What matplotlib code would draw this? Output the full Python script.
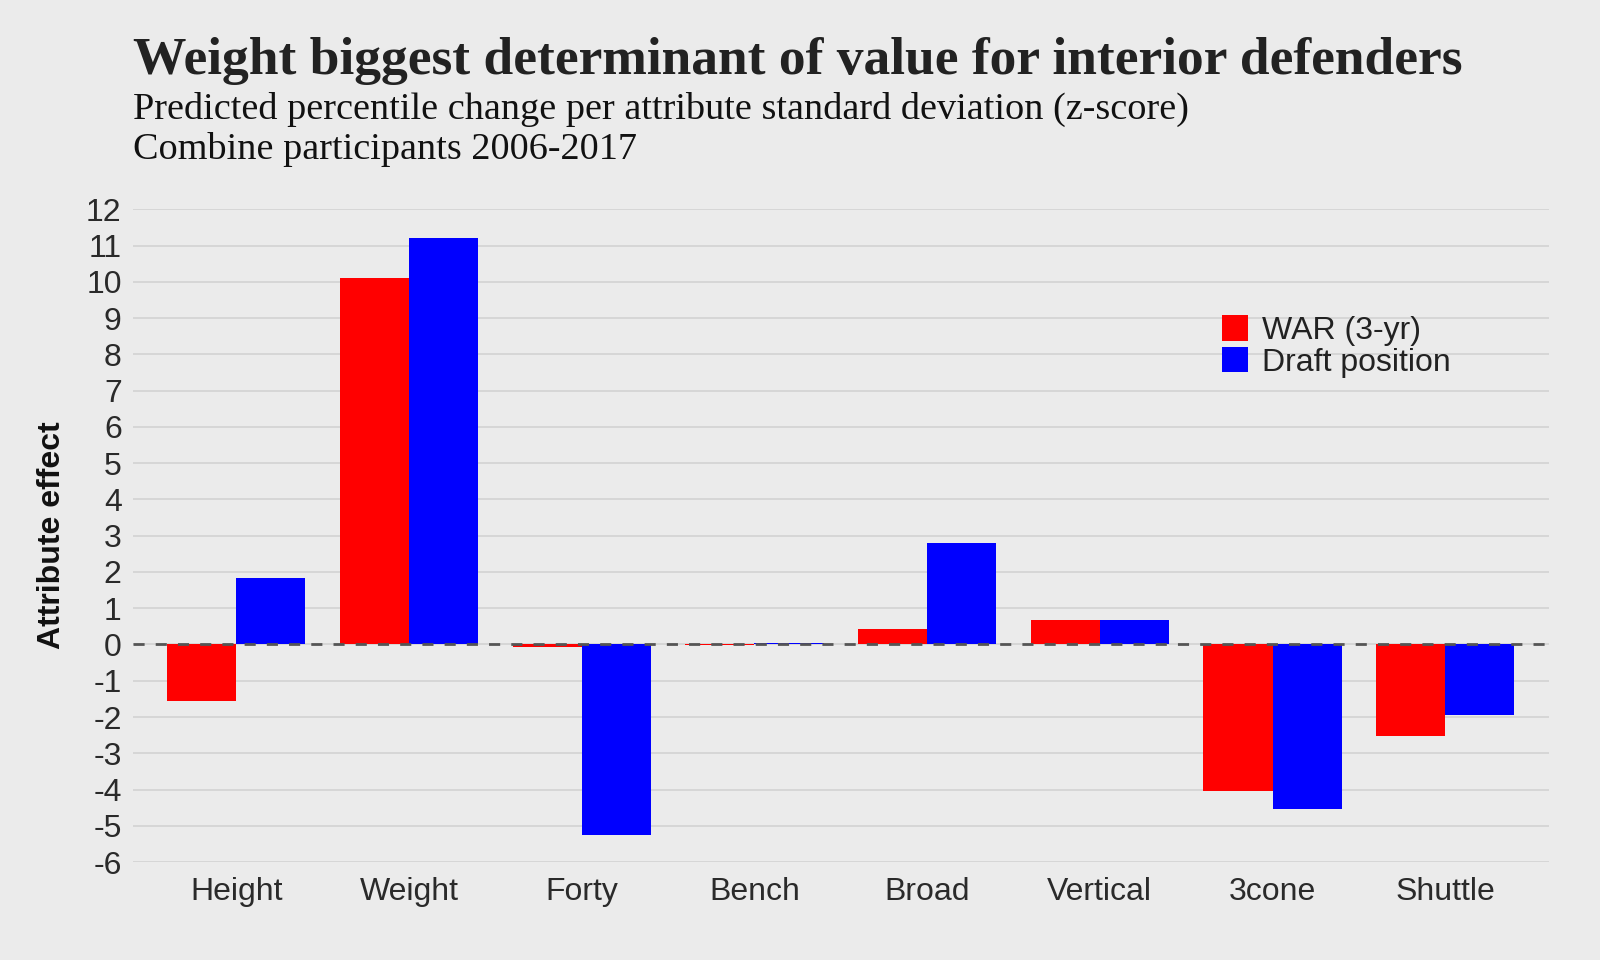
import matplotlib
matplotlib.use("Agg")
import matplotlib.pyplot as plt
import numpy as np

categories = ["Height", "Weight", "Forty", "Bench", "Broad", "Vertical", "3cone", "Shuttle"]
war_3yr = [-1.57, 10.1, -0.08, -0.02, 0.42, 0.68, -4.05, -2.52]
draft_position = [1.84, 11.2, -5.25, 0.03, 2.8, 0.68, -4.53, -1.94]
series_names = ["WAR (3-yr)", "Draft position"]
yticks = list(range(-6, 13))

bg = "#ebebeb"
fig = plt.figure(figsize=(16, 9.6), dpi=100, facecolor=bg)
ax = fig.add_axes([0.083, 0.102, 0.885, 0.68], facecolor=bg)

x = np.arange(len(categories))
w = 0.4
ax.bar(x - w / 2, war_3yr, width=w, color="#ff0000", label=series_names[0], zorder=2)
ax.bar(x + w / 2, draft_position, width=w, color="#0000ff", label=series_names[1], zorder=2)
ax.axhline(0, color="#555555", linestyle=(0, (4, 4)), linewidth=2, zorder=3)

ax.set_xlim(-0.6, len(categories) - 0.4)
ax.set_ylim(-6, 12)
ax.set_yticks(yticks)
ax.set_yticklabels([str(t) for t in yticks])
ax.set_xticks(x)
ax.set_xticklabels(categories)
ax.grid(axis="y", color="#d2d2d2", linewidth=1.2, zorder=0)
ax.grid(axis="x", visible=False)
for s in ax.spines.values():
    s.set_visible(False)
ax.tick_params(axis="both", length=0, labelsize=23, labelcolor="#2a2a2a")
ax.tick_params(axis="x", pad=11)
ax.tick_params(axis="y", pad=8)
for lab in ax.get_xticklabels() + ax.get_yticklabels():
    lab.set_family("Liberation Sans")

fig.text(0.0325, 0.443, "Attribute effect", rotation=90, ha="center", va="center",
         fontsize=23, fontweight="bold", family="Liberation Sans", color="#111111")

leg = fig.legend(*ax.get_legend_handles_labels(), loc="upper left",
                 bbox_to_anchor=(0.7635, 0.6715), bbox_transform=fig.transFigure,
                 frameon=False, prop={"family": "Liberation Sans", "size": 23},
                 handlelength=0.82, handleheight=0.84, handletextpad=0.45,
                 labelspacing=0.03, borderpad=0, borderaxespad=0)
for t in leg.get_texts():
    t.set_color("#222222")

fig.text(0.083, 0.923, "Weight biggest determinant of value for interior defenders",
         family="Liberation Serif", fontweight="bold", fontsize=38.5, color="#222222",
         va="baseline")
fig.text(0.083, 0.876, "Predicted percentile change per attribute standard deviation (z-score)",
         family="Liberation Serif", fontsize=27.5, color="#111111", va="baseline")
fig.text(0.083, 0.834, "Combine participants 2006-2017",
         family="Liberation Serif", fontsize=27.5, color="#111111", va="baseline")

fig.savefig("out.png", dpi=100, facecolor=bg)
